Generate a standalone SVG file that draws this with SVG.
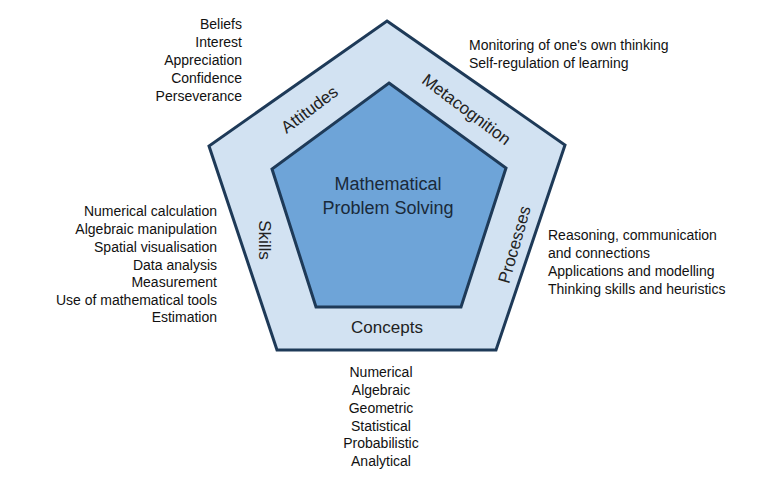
<svg xmlns="http://www.w3.org/2000/svg" width="768" height="479" viewBox="0 0 768 479">
<style>
text{font-family:"Liberation Sans",Arial,sans-serif;fill:#111}
.l{font-size:14px}
.b{font-size:17px;fill:#222}
.m{font-size:18px;fill:#1a2a3a}
</style>
<rect width="768" height="479" fill="#fff"/>
<g id="outer"><polygon points="387,21 565,145 496,350 277,350 209,146" fill="#d2e2f2" stroke="#1e3a58" stroke-width="3"/></g>
<g id="inner"><polygon points="389,83 506,168 461,307 316,307 272,169" fill="#6ea4d8" stroke="#1e3a58" stroke-width="3"/>
<text class="m" x="388" y="190" text-anchor="middle">Mathematical</text>
<text class="m" x="388" y="214" text-anchor="middle">Problem Solving</text></g>
<g id="attitudes"><text class="b" transform="translate(313,114) rotate(-37)" text-anchor="middle">Attitudes</text></g>
<g id="metacognition"><text class="b" transform="translate(463,114) rotate(37)" text-anchor="middle">Metacognition</text></g>
<g id="skills"><text class="b" transform="translate(259,240) rotate(90)" text-anchor="middle">Skills</text></g>
<g id="processes"><text class="b" transform="translate(520,246) rotate(-74)" text-anchor="middle">Processes</text></g>
<g id="concepts"><text class="b" x="387" y="333" text-anchor="middle">Concepts</text></g>
<g id="attitudes-list" class="l" text-anchor="end">
<text class="l" x="242" y="29">Beliefs</text><text class="l" x="242" y="47">Interest</text><text class="l" x="242" y="65">Appreciation</text><text class="l" x="242" y="83">Confidence</text><text class="l" x="242" y="101">Perseverance</text></g>
<g id="meta-list"><text class="l" x="469" y="50">Monitoring of one's own thinking</text><text class="l" x="469" y="68">Self-regulation of learning</text></g>
<g id="skills-list" text-anchor="end">
<text class="l" x="217" y="216">Numerical calculation</text><text class="l" x="217" y="234">Algebraic manipulation</text><text class="l" x="217" y="252">Spatial visualisation</text><text class="l" x="217" y="270">Data analysis</text><text class="l" x="217" y="287">Measurement</text><text class="l" x="217" y="305">Use of mathematical tools</text><text class="l" x="217" y="322">Estimation</text></g>
<g id="processes-list">
<text class="l" x="548" y="240">Reasoning, communication</text><text class="l" x="548" y="258">and connections</text><text class="l" x="548" y="276">Applications and modelling</text><text class="l" x="548" y="294">Thinking skills and heuristics</text></g>
<g id="concepts-list" text-anchor="middle">
<text class="l" x="381" y="377">Numerical</text><text class="l" x="381" y="395">Algebraic</text><text class="l" x="381" y="413">Geometric</text><text class="l" x="381" y="431">Statistical</text><text class="l" x="381" y="448">Probabilistic</text><text class="l" x="381" y="466">Analytical</text></g>
<g id="connectors"/>
</svg>
